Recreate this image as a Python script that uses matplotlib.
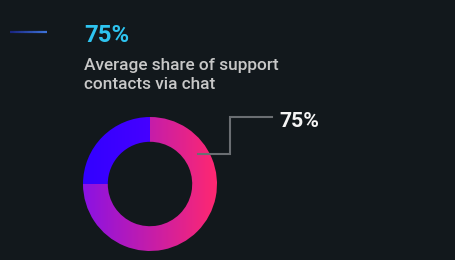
import numpy as np
import matplotlib
matplotlib.use("Agg")
import matplotlib.pyplot as plt
from matplotlib.colors import LinearSegmentedColormap
from matplotlib.collections import LineCollection

# Data
share_label = "75%"
subtitle_lines = ["Average share of support", "contacts via chat"]
values = [75, 25]
# gradient end colours per slice (left, right)
slice_colors = [("#8a12e4", "#ff2870"), ("#3200ff", "#5800ff")]

bg = "#12181c"

fig = plt.figure(figsize=(4.55, 2.6), dpi=100, facecolor=bg)

# donut axes (pixel box: x 83..217, y 117..251 from top)
W, H = 455, 260
dax = fig.add_axes([83 / W, (H - 251) / H, 134 / W, 134 / H])
dax.set_facecolor(bg)
wedges, _ = dax.pie(values, startangle=90, counterclock=False,
                    radius=1, wedgeprops=dict(width=0.37, linewidth=0))
dax.set_xlim(-1, 1)
dax.set_ylim(-1, 1)
dax.set_aspect("equal")
dax.axis("off")

# horizontal gradient fill clipped to each wedge
grad = np.linspace(0, 1, 256).reshape(1, -1)
for w, (c0, c1) in zip(wedges, slice_colors):
    w.set_facecolor("none")
    cmap = LinearSegmentedColormap.from_list("g", [c0, c1])
    img = dax.imshow(grad, cmap=cmap, extent=[-1, 1, -1, 1],
                     aspect="auto", interpolation="bilinear", zorder=2)
    img.set_clip_path(w)

# overlay axes in pixel coordinates
ax = fig.add_axes([0, 0, 1, 1])
ax.set_xlim(0, W)
ax.set_ylim(H, 0)
ax.patch.set_alpha(0)
ax.axis("off")

# accent line top-left with gradient
xs = np.linspace(10, 47, 30)
segs = [[(xs[i], 32), (xs[i + 1], 32)] for i in range(len(xs) - 1)]
line_cmap = LinearSegmentedColormap.from_list("l", ["#1a2580", "#3d72d8"])
lc = LineCollection(segs, linewidths=1.6,
                    colors=line_cmap(np.linspace(0, 1, len(segs))))
ax.add_collection(lc)

ax.text(84, 42, share_label, color="#2ec4f0", fontsize=17.2,
        fontweight="bold", family="Roboto", va="baseline", ha="left")
for i, line in enumerate(subtitle_lines):
    ax.text(84, 70 + 19 * i, line, color="#c8c8c8", fontsize=12.4,
            fontweight="medium", family="Roboto", va="baseline", ha="left")

# leader line
ax.plot([198, 230, 230, 272], [154, 154, 117, 117], color="#6a6e72",
        lw=1.5, solid_joinstyle="miter")
ax.text(279, 127, share_label, color="#f5f5f5", fontsize=15.3,
        fontweight="bold", family="Roboto", va="baseline", ha="left")

fig.savefig("out.png", dpi=100, facecolor=bg)
